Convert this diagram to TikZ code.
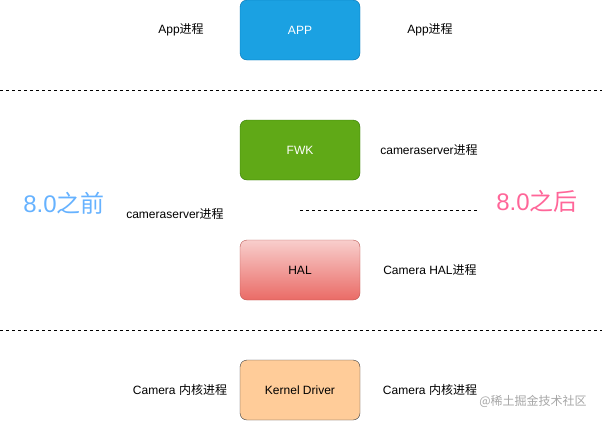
\documentclass[tikz,border=0pt]{standalone}
\usepackage{fontspec}
\setmainfont{Liberation Sans}
\newfontfamily\cjkf{Noto Sans CJK SC}
\begin{document}
\begin{tikzpicture}[x=1pt,y=-1pt,
  box/.style={draw,rounded corners=7pt,minimum width=120pt,minimum height=60pt,inner sep=0pt,font=\fontsize{12}{14}\selectfont},
  lbl/.style={font=\fontsize{12}{14}\selectfont,inner sep=0pt},
  sep/.style={dashed,line width=0.8pt}]
\definecolor{appf}{HTML}{1BA1E2}\definecolor{appd}{HTML}{006EAF}
\definecolor{fwkf}{HTML}{60A917}\definecolor{fwkd}{HTML}{2D7600}
\definecolor{halt}{HTML}{F8CECC}\definecolor{halb}{HTML}{EA6B66}\definecolor{hald}{HTML}{B85450}
\definecolor{kerf}{HTML}{FFCC99}\definecolor{kerd}{HTML}{36393D}
\definecolor{blu}{HTML}{66B2FF}\definecolor{pnk}{HTML}{FF6699}
\useasboundingbox (0,0) rectangle (602,421);
\node[box,fill=appf,draw=appd,text=white] (app) at (300,30) {APP};
\node[box,fill=fwkf,draw=fwkd,text=white] (fwk) at (300,150) {FWK};
\node[box,top color=halt,bottom color=halb,draw=hald] (hal) at (300,270) {HAL};
\node[box,fill=kerf,draw=kerd] (ker) at (300,390) {Kernel Driver};
\coordinate (l1a) at (0,90); \coordinate (l1b) at (602,90);
\coordinate (l2a) at (0,330); \coordinate (l2b) at (602,330);
\coordinate (l3a) at (300,210); \coordinate (l3b) at (478,210);
\draw[sep] (l1a) -- (l1b);
\draw[sep] (l2a) -- (l2b);
\draw[sep] (l3a) -- (l3b);
\node[lbl] (t1) at (181,30) {App{\cjkf 进程}};
\node[lbl] (t2) at (430,30) {App{\cjkf 进程}};
\node[lbl] (t3) at (429,150) {cameraserver{\cjkf 进程}};
\node[lbl] (t4) at (175,214) {cameraserver{\cjkf 进程}};
\node[lbl] (t5) at (430,270) {Camera HAL{\cjkf 进程}};
\node[lbl] (t6) at (180,390) {Camera {\cjkf 内核进程}};
\node[lbl] (t7) at (430,390) {Camera {\cjkf 内核进程}};
\node[lbl,font=\fontsize{24}{28}\selectfont,text=blu] (b1) at (64,203) {8.0{\cjkf 之前}};
\node[lbl,font=\fontsize{24}{28}\selectfont,text=pnk] (b2) at (537,201) {8.0{\cjkf 之后}};
\node[lbl,font=\fontsize{12}{14}\selectfont,text=black!35] (wm) at (533,401) {{\cjkf @稀土掘金技术社区}};
\end{tikzpicture}
\end{document}
